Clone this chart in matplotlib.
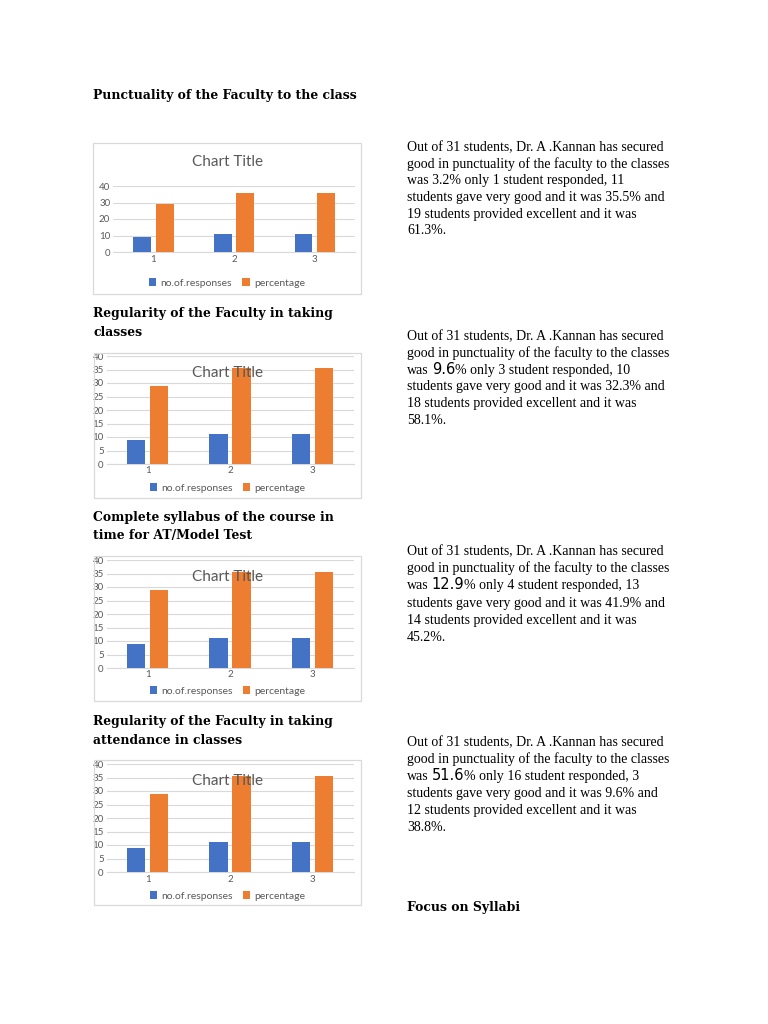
import matplotlib
matplotlib.use("Agg")
import matplotlib.pyplot as plt
from matplotlib.patches import Rectangle

W, H = 768, 1024

# chart data (same survey numbers in all four charts)
categories = [1, 2, 3]
responses = [9, 11, 11]
percentage = [29, 35.5, 35.5]

headings = [
    ["Punctuality of the Faculty to the class"],
    ["Regularity of the Faculty in taking", "classes"],
    ["Complete syllabus of the course in", "time for AT/Model Test"],
    ["Regularity of the Faculty in taking", "attendance in classes"],
]

# each paragraph: (first number, rest of text lines)
para_numbers = ["3.2", "9.6", "12.9", "51.6"]
para_third = [
    "% only 1 student responded, 11",
    "% only 3 student responded, 10",
    "% only 4 student responded, 13",
    "% only 16 student responded, 3",
]
para_tail = [
    ["students gave very good and it was 35.5% and",
     "19 students provided excellent and it was", "61.3%."],
    ["students gave very good and it was 32.3% and",
     "18 students provided excellent and it was", "58.1%."],
    ["students gave very good and it was 41.9% and",
     "14 students provided excellent and it was", "45.2%."],
    ["students gave very good and it was 9.6% and",
     "12 students provided excellent and it was", "38.8%."],
]

BLUE = "#4472C4"
ORANGE = "#ED7D31"
GREY = "#595959"
GRID = "#D9D9D9"

fig = plt.figure(figsize=(W / 100, H / 100), dpi=100)
fig.patch.set_facecolor("white")
renderer = fig.canvas.get_renderer()


def fx(x):
    return x / W


def fy(y):
    return 1 - y / H


def rect(x0, y0, x1, y1):
    return [x0 / W, 1 - y1 / H, (x1 - x0) / W, (y1 - y0) / H]


def runs(x, y, parts):
    # parts: list of (text, family, size, gap_before)
    for text, fam, sz, gap in parts:
        x += gap
        t = fig.text(fx(x), fy(y), text, family=fam, size=sz,
                     va="baseline", ha="left", color="black")
        bb = t.get_window_extent(renderer)
        x += bb.width


def paragraph(x, y0, step, i):
    size = 10
    sp = 0.22 * size * 100 / 72
    fig.text(fx(x), fy(y0), "Out of 31 students, Dr. A .Kannan has secured",
             family="Liberation Serif", size=size, va="baseline")
    fig.text(fx(x), fy(y0 + step), "good in punctuality of the faculty to the classes",
             family="Liberation Serif", size=size, va="baseline")
    if i == 0:
        fig.text(fx(x), fy(y0 + 2 * step), "was " + para_numbers[i] + para_third[i],
                 family="Liberation Serif", size=size, va="baseline")
    else:
        runs(x, y0 + 2 * step, [
            ("was", "Liberation Serif", size, 0),
            (para_numbers[i], "DejaVu Sans", 10.5, sp),
            (para_third[i], "Liberation Serif", size, 0),
        ])
    for k, line in enumerate(para_tail[i]):
        fig.text(fx(x), fy(y0 + (3 + k) * step), line,
                 family="Liberation Serif", size=size, va="baseline")


def heading(x, y0, lines):
    for k, line in enumerate(lines):
        fig.text(fx(x), fy(y0 + k * 19), line, family="DejaVu Serif",
                 weight="bold", size=8.9, va="center")


def chart(box, plot, step, title_y, xlab_y, leg_y):
    bx0, by0, bx1, by1 = box
    fig.patches.append(Rectangle((fx(bx0), fy(by1)), (bx1 - bx0) / W, (by1 - by0) / H,
                                 transform=fig.transFigure, fill=False,
                                 edgecolor=GRID, lw=0.9))
    ax = fig.add_axes(rect(*plot))
    ax.set_facecolor("none")
    xs = list(categories)
    w = 0.22
    ax.bar([c - 0.14 for c in xs], responses, w, color=BLUE, label="no.of.responses", zorder=3)
    ax.bar([c + 0.14 for c in xs], percentage, w, color=ORANGE, label="percentage", zorder=3)
    ax.set_xlim(0.5, 3.5)
    ax.set_ylim(0, 40)
    ax.set_yticks(range(0, 41, step))
    ax.set_xticks(xs)
    ax.set_xticklabels([str(c) for c in xs])
    ax.grid(axis="y", color=GRID, lw=0.8, zorder=0)
    for s in ["top", "right", "left"]:
        ax.spines[s].set_visible(False)
    ax.spines["bottom"].set_color(GRID)
    ax.tick_params(length=0, labelsize=7, labelcolor=GREY, pad=2)
    for lab in ax.get_xticklabels() + ax.get_yticklabels():
        lab.set_family("Lato")
    ax.tick_params(axis="x", pad=(xlab_y - plot[3]) * 0.72 - 3.5)
    fig.text(fx((bx0 + bx1) / 2), fy(title_y), "Chart Title", family="Lato",
             size=11, color=GREY, ha="center", va="center")
    ax.legend(loc="center", bbox_to_anchor=(fx((bx0 + bx1) / 2), fy(leg_y)),
              bbox_transform=fig.transFigure, ncol=2, frameon=False,
              prop={"family": "Lato", "size": 7.5}, labelcolor=GREY,
              handlelength=0.7, handleheight=0.7, handletextpad=0.4,
              columnspacing=1.0)
    return ax


# headings
heading(93, 96, headings[0])
heading(93, 314, headings[1])
heading(93, 517, headings[2])
heading(93, 721, headings[3])

# charts
chart((93, 143, 361, 294), (113, 186, 355, 252), 10, 162, 260, 283)
chart((94, 353, 361, 498), (106.5, 356, 353.5, 464), 5, 373, 471, 488)
chart((94, 556, 361, 701), (106.5, 560, 353.5, 668), 5, 577, 675, 691)
chart((94, 760, 361, 905), (106.5, 764, 353.5, 872), 5, 781, 880, 896)

# paragraphs
paragraph(407, 151, 16.7, 0)
paragraph(407, 340, 16.8, 1)
paragraph(407, 555, 17.2, 2)
paragraph(407, 746, 17.0, 3)

fig.text(fx(407), fy(907), "Focus on Syllabi", family="DejaVu Serif",
         weight="bold", size=8.9, va="center")

fig.savefig("out.png", dpi=100)
